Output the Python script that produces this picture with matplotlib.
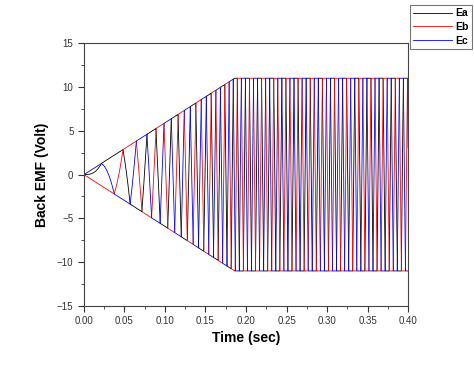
import numpy as np
import matplotlib
matplotlib.use("Agg")
import matplotlib.pyplot as plt
from matplotlib.ticker import MultipleLocator

plt.rcParams['font.family'] = ['Liberation Sans', 'DejaVu Sans']

# speed profile: linear ramp, then constant
ramp_t = [0.0, 0.186, 0.40]      # sec
ramp_amp = [0.0, 11.0, 11.0]     # peak back EMF (V)
ramp_freq = [0.0, 66.7, 66.7]    # electrical frequency (Hz)

# trapezoidal back EMF shape over one electrical period
trap_deg = [0, 30, 150, 210, 330, 360]
trap_val = [0, 1, 1, -1, -1, 0]

phase_names = ['Ea', 'Eb', 'Ec']
phase_shift = [0, -120, 120]     # deg
phase_colors = ['black', 'red', 'blue']

# time axis
t = np.arange(0, 0.40 + 1e-6, 1e-5)
amp = np.interp(t, ramp_t, ramp_amp)
freq = np.interp(t, ramp_t, ramp_freq)
theta = np.concatenate([[0], np.cumsum(360 * 0.5 * (freq[1:] + freq[:-1]) * np.diff(t))])

fig = plt.figure(figsize=(4.74, 3.66), dpi=100)
ax = fig.add_axes([0.177, 0.164, 0.684, 0.718])

for name, sh, c in zip(phase_names, phase_shift, phase_colors):
    e = amp * np.interp((theta + sh) % 360, trap_deg, trap_val)
    ax.plot(t, e, color=c, lw=0.6, label=name)

ax.set_xlim(0, 0.40)
ax.set_ylim(-15, 15)
ax.xaxis.set_major_locator(MultipleLocator(0.05))
ax.xaxis.set_minor_locator(MultipleLocator(0.025))
ax.yaxis.set_major_locator(MultipleLocator(5))
ax.yaxis.set_minor_locator(MultipleLocator(2.5))
ax.xaxis.set_major_formatter(matplotlib.ticker.FormatStrFormatter('%.2f'))
ax.tick_params(which='both', direction='out', top=False, right=False,
               labelsize=7, colors='#333333', labelcolor='#333333')
ax.tick_params(which='major', length=4)
ax.tick_params(which='minor', length=2.5)
for s in ax.spines.values():
    s.set_linewidth(0.8)
    s.set_color('#444444')

ax.set_xlabel('Time (sec)', fontsize=10, fontweight='bold', labelpad=3)
ax.set_ylabel('Back EMF (Volt)', fontsize=10, fontweight='bold', labelpad=6)

leg = fig.legend(loc='upper right', bbox_to_anchor=(0.996, 0.986), fontsize=7.5,
                 frameon=True, fancybox=False, handlelength=3.8, handletextpad=0.3,
                 borderpad=0.3, labelspacing=0.35, borderaxespad=0)
leg.get_frame().set_edgecolor('#555555')
leg.get_frame().set_linewidth(0.8)
for txt in leg.get_texts():
    txt.set_fontweight('bold')

fig.savefig('out.png', dpi=100)
